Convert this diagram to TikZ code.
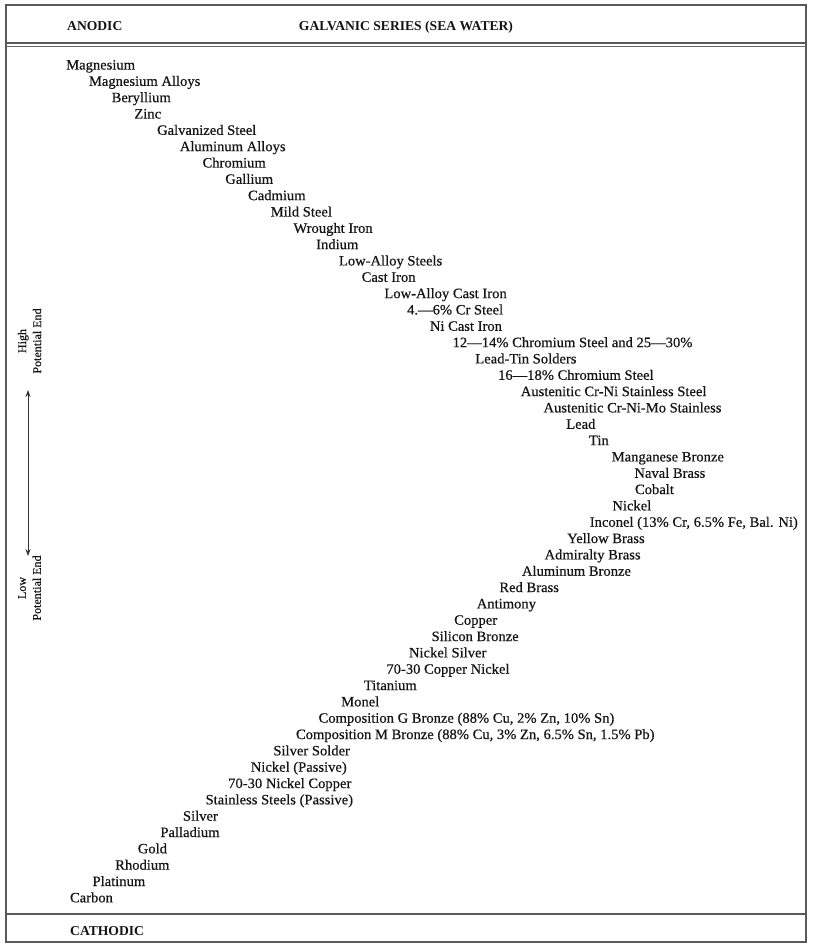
\documentclass[tikz,border=0pt]{standalone}
\usepackage{fontspec}
\setmainfont{Liberation Serif}
\newfontfamily\bodyfont{Liberation Serif}[FakeBold=0.5,FakeStretch=1.02]
\usetikzlibrary{arrows.meta}
\begin{document}
\begin{tikzpicture}[x=1pt,y=-1pt,
  item/.style={anchor=base west,inner sep=0pt,text=black!92,font=\bodyfont\fontsize{14.3}{16}\selectfont},
  hdr/.style={anchor=base west,inner sep=0pt,text=black!92,font=\fontsize{13.6}{15}\selectfont\bfseries},
  side/.style={rotate=90,align=center,inner sep=0pt,text=black!92,font=\bodyfont\fontsize{11.8}{15}\selectfont},
  frame/.style={draw=black!65,line width=1.1pt},
  thinframe/.style={draw=black!60,line width=0.8pt},
  dblarrow/.style={draw=black!80,line width=0.8pt,{Stealth[length=7pt,width=5pt]}-{Stealth[length=7pt,width=5pt]}}]
\useasboundingbox (0,0) rectangle (814,947);
% frame
\coordinate (tl) at (6,5);
\coordinate (br) at (806,942);
\draw[frame] (tl) rectangle (br);
\coordinate (h1l) at (6,43);   \coordinate (h1r) at (806,43);
\coordinate (h2l) at (6,46.5); \coordinate (h2r) at (806,46.5);
\coordinate (f1l) at (6,914);  \coordinate (f1r) at (806,914);
\draw[frame] (h1l) -- (h1r);
\draw[thinframe] (h2l) -- (h2r);
\draw[frame] (f1l) -- (f1r);
% headers
\node[hdr] (anodic) at (67,30.5) {ANODIC};
\node[hdr,anchor=base] (title) at (406,30.5) {GALVANIC SERIES (SEA WATER)};
\node[hdr] (cathodic) at (70,935) {CATHODIC};
% side labels
\node[side] (high) at (29.5,341) {High\\Potential End};
\node[side] (low) at (29.5,588) {Low\\Potential End};
\coordinate (atop) at (28,390);
\coordinate (abot) at (28,556);
\draw[dblarrow] (atop) -- (abot);
% series
\foreach \t [count=\i from 0] in {Magnesium, Magnesium Alloys, Beryllium, Zinc, Galvanized Steel, Aluminum Alloys, Chromium, Gallium, Cadmium, Mild Steel, Wrought Iron, Indium, Low-Alloy Steels, Cast Iron, Low-Alloy Cast Iron, 4.—6\% Cr Steel, Ni Cast Iron, 12—14\% Chromium Steel and 25—30\%, Lead-Tin Solders, 16—18\% Chromium Steel, Austenitic Cr-Ni Stainless Steel, Austenitic Cr-Ni-Mo Stainless, Lead, Tin, Manganese Bronze, Naval Brass, Cobalt, Nickel, {Inconel (13\% Cr, 6.5\% Fe, Bal. Ni)}, Yellow Brass, Admiralty Brass, Aluminum Bronze, Red Brass, Antimony, Copper, Silicon Bronze, Nickel Silver, 70-30 Copper Nickel, Titanium, Monel, {Composition G Bronze (88\% Cu, 2\% Zn, 10\% Sn)}, {Composition M Bronze (88\% Cu, 3\% Zn, 6.5\% Sn, 1.5\% Pb)}, Silver Solder, Nickel (Passive), 70-30 Nickel Copper, Stainless Steels (Passive), Silver, Palladium, Gold, Rhodium, Platinum, Carbon} {
  \pgfmathsetmacro\xx{\i<26 ? 66+22.73*\i : 69.8+22.6*(51-\i)}
  \pgfmathsetmacro\yy{69.5+16.33*\i}
  \node[item] (m\i) at (\xx,\yy) {\t};
}
\end{tikzpicture}
\end{document}
